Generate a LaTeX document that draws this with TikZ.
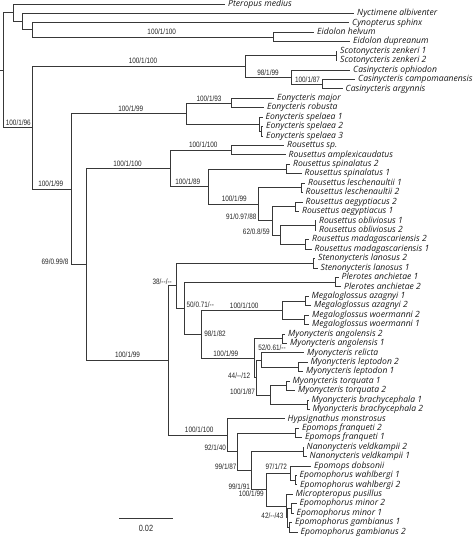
\documentclass[tikz,border=0pt]{standalone}
\usepackage{fontspec}
\usepackage{tikz}
\usetikzlibrary{positioning,calc}
\setmainfont{Liberation Sans}
\newfontfamily\taxfont{Open Sans}
\newfontfamily\narrowfont[FakeStretch=0.82]{Liberation Sans}
\definecolor{branch}{HTML}{383838}

\begin{document}
\begin{tikzpicture}[
  x=1pt, y=-1pt,
  br/.style={draw=branch, line width=0.9pt},
  leaf/.style={inner sep=1pt, font=\taxfont\itshape\fontsize{8.6}{9}\selectfont,
               text height=6pt, text depth=1.6pt, text=black!90},
  bs/.style={inner sep=0pt, font=\narrowfont\fontsize{7.8}{9}\selectfont, text=black!85},
]
\useasboundingbox (0,0) rectangle (474,537);
% ---------- taxa (tip x, label) ----------
\foreach \n/\xe/\t [count=\i] in {
  l1/225/Pteropus medius,
  l2/354/Nyctimene albiventer,
  l3/349/Cynopterus sphinx,
  l4/314/Eidolon helvum,
  l5/350/Eidolon dupreanum,
  l6/337/Scotonycteris zenkeri 1,
  l7/337/Scotonycteris zenkeri 2,
  l8/350/Casinycteris ophiodon,
  l9/355/Casinycteris campomaanensis,
  l10/342.5/Casinycteris argynnis,
  l11/274/Eonycteris major,
  l12/264/Eonycteris robusta,
  l13/262.5/Eonycteris spelaea 1,
  l14/263/Eonycteris spelaea 2,
  l15/263/Eonycteris spelaea 3,
  l16/284/Rousettus sp.,
  l17/285.5/Rousettus amplexicaudatus,
  l18/290/Rousettus spinalatus 2,
  l19/301.5/Rousettus spinalatus 1,
  l20/305/Rousettus leschenaultii 1,
  l21/302.5/Rousettus leschenaultii 2,
  l22/302.5/Rousettus aegyptiacus 2,
  l23/299/Rousettus aegyptiacus 1,
  l24/316/Rousettus obliviosus 1,
  l25/316/Rousettus obliviosus 2,
  l26/309/Rousettus madagascariensis 2,
  l27/311.5/Rousettus madagascariensis 1,
  l28/315/Stenonycteris lanosus 2,
  l29/317.5/Stenonycteris lanosus 1,
  l30/338.5/Plerotes anchietae 1,
  l31/341/Plerotes anchietae 2,
  l32/308.5/Megaloglossus azagnyi 1,
  l33/311/Megaloglossus azagnyi 2,
  l34/309/Megaloglossus woermanni 2,
  l35/309/Megaloglossus woermanni 1,
  l36/285/Myonycteris angolensis 2,
  l37/287/Myonycteris angolensis 1,
  l38/304/Myonycteris relicta,
  l39/307.5/Myonycteris leptodon 2,
  l40/303/Myonycteris leptodon 1,
  l41/289.5/Myonycteris torquata 1,
  l42/295/Myonycteris torquata 2,
  l43/308.5/Myonycteris brachycephala 1,
  l44/309.5/Myonycteris brachycephala 2,
  l45/284.5/Hypsignathus monstrosus,
  l46/299/Epomops franqueti 2,
  l47/302/Epomops franqueti 1,
  l48/303.5/Nanonycteris veldkampii 2,
  l49/306.5/Nanonycteris veldkampii 1,
  l50/311/Epomops dobsonii,
  l51/296.5/Epomophorus wahlbergi 1,
  l52/297/Epomophorus wahlbergi 2,
  l53/292.5/Micropteropus pusillus,
  l54/296.5/Epomophorus minor 2,
  l55/293.5/Epomophorus minor 1,
  l56/292/Epomophorus gambianus 1,
  l57/297.5/Epomophorus gambianus 2}{
  \coordinate (\n) at (\xe, {4+(\i-1)*9.43});
  \node[leaf, right=2pt of \n] (t\n) {\t};
}
% ---------- internal nodes ----------
\coordinate (base) at (0,70.31);
\coordinate (root) at (3.7,70.31);
\coordinate (A) at (13.3,12.84);     \coordinate (B) at (22.3,21.68);
\coordinate (C) at (32.3,29.93);     \coordinate (Eid) at (273.3,37.0);
\coordinate (N96) at (32,127.78);    \coordinate (S1) at (245.7,66.48);
\coordinate (Zk) at (336,55.87);     \coordinate (Cas1) at (291.7,77.08);
\coordinate (Cas2) at (322.7,84.16);
\coordinate (Nmid) at (71.7,189.07); \coordinate (E) at (186,113.63);
\coordinate (E1) at (231.7,103.02);  \coordinate (E2) at (259,124.23);
\coordinate (E3) at (261,131.31);
\coordinate (N69) at (86,264.51);    \coordinate (R) at (170,168.4);
\coordinate (R1) at (231.7,150.17);  \coordinate (R2) at (208.3,186.7);
\coordinate (Rsp) at (286,169.03);   \coordinate (R3) at (258.3,204.4);
\coordinate (Rle) at (301.7,187.89); \coordinate (R4) at (272.7,220.9);
\coordinate (Rae) at (295,206.75);   \coordinate (R5) at (280,235.04);
\coordinate (Rob) at (315,225.61);   \coordinate (Rma) at (305,244.47);
\coordinate (N100b) at (168.3,360.62);
\coordinate (N38) at (176,285.8);    \coordinate (St) at (313.3,263.33);
\coordinate (N50) at (184.3,308.28); \coordinate (Pl) at (335,282.19);
\coordinate (N98) at (201.7,334.36); \coordinate (MG) at (282.7,310.5);
\coordinate (Maz) at (305.7,301.05); \coordinate (Mwo) at (304.3,319.9);
\coordinate (MY) at (254.7,358.22);  \coordinate (Man) at (282,338.77);
\coordinate (N44) at (256.7,377.67); \coordinate (N52) at (261.7,359.98);
\coordinate (Mle) at (298.3,367.06); \coordinate (N100c) at (270,395.35);
\coordinate (Mto) at (286,385.92);   \coordinate (Mbr) at (307.3,404.78);
\coordinate (N100d) at (227.7,435.43); \coordinate (N92) at (237.3,451.93);
\coordinate (Efr) at (295,433.07);   \coordinate (N99c) at (251,470.79);
\coordinate (Nve) at (303.3,451.93); \coordinate (N99d) at (266,489.65);
\coordinate (N97) at (290.7,473.15); \coordinate (Ewa) at (295,480.22);
\coordinate (N100e) at (286,506.15); \coordinate (N42) at (287.7,517.94);
\coordinate (Emi) at (291.7,508.5);  \coordinate (Ega) at (289.3,527.37);
% ---------- branches ----------
\draw[br] (base) -- (root);
\foreach \p/\c in {root/A, root/N96, A/l1, A/B, B/l2, B/C, C/l3, C/Eid, Eid/l4, Eid/l5,
  N96/S1, N96/Nmid, S1/Zk, S1/Cas1, Zk/l6, Zk/l7, Cas1/l8, Cas1/Cas2, Cas2/l9, Cas2/l10,
  Nmid/E, Nmid/N69, E/E1, E/E2, E1/l11, E1/l12, E2/l13, E2/E3, E3/l14, E3/l15,
  N69/R, N69/N100b, R/R1, R/R2, R1/l16, R1/l17, R2/Rsp, R2/R3, Rsp/l18, Rsp/l19,
  R3/Rle, R3/R4, Rle/l20, Rle/l21, R4/Rae, R4/R5, Rae/l22, Rae/l23,
  R5/Rob, R5/Rma, Rob/l24, Rob/l25, Rma/l26, Rma/l27,
  N100b/N38, N100b/N100d, N38/St, N38/N50, St/l28, St/l29, N50/Pl, N50/N98, Pl/l30, Pl/l31,
  N98/MG, N98/MY, MG/Maz, MG/Mwo, Maz/l32, Maz/l33, Mwo/l34, Mwo/l35,
  MY/Man, MY/N44, Man/l36, Man/l37, N44/N52, N44/N100c, N52/l38, N52/Mle, Mle/l39, Mle/l40,
  N100c/Mto, N100c/Mbr, Mto/l41, Mto/l42, Mbr/l43, Mbr/l44,
  N100d/l45, N100d/N92, N92/Efr, N92/N99c, Efr/l46, Efr/l47, N99c/Nve, N99c/N99d, Nve/l48, Nve/l49,
  N99d/N97, N99d/N100e, N97/l50, N97/Ewa, Ewa/l51, Ewa/l52,
  N100e/l53, N100e/N42, N42/Emi, N42/Ega, Emi/l54, Emi/l55, Ega/l56, Ega/l57}
  \draw[br] (\p) |- (\c);
% ---------- support values ----------
\node[bs] (sEid) at (161.7,32) {100/1/100};   \node[bs] (sS1) at (143,61) {100/1/100};
\node[bs] (sCas1) at (268,72.3) {98/1/99};    \node[bs] (sCas2) at (307.5,79.3) {100/1/87};
\node[bs] (sN96) at (18.3,122.7) {100/1/96};  \node[bs] (sE) at (130.8,108.3) {100/1/99};
\node[bs] (sE1) at (209,98.3) {100/1/93};     \node[bs] (sNmid) at (50.8,183.3) {100/1/99};
\node[bs] (sN69) at (55,261.7) {69/0.99/8};   \node[bs] (sR) at (127.5,163.3) {100/1/100};
\node[bs] (sR1) at (203.3,145) {100/1/100};   \node[bs] (sR2) at (187.8,181.7) {100/1/89};
\node[bs] (sR3) at (234.2,199) {100/1/99};    \node[bs] (sR4) at (241.3,217) {91/0.97/88};
\node[bs] (sR5) at (256.3,232.2) {62/0.8/59};
\node[bs] (sN38) at (162.2,281.7) {38/-{}-/-{}-};
\node[bs] (sN50) at (200.3,305) {50/0.71/--};  \node[bs] (sMG) at (244.2,305.7) {100/1/100};
\node[bs] (sN98) at (215,333.8) {98/1/82};     \node[bs] (sMY) at (225.8,353.3) {100/1/99};
\node[bs] (sN52) at (272,347.8) {52/0.61/-{}-};
\node[bs] (sN44) at (239.2,375.3) {44/-{}-/12}; \node[bs] (sN100c) at (242.5,391.7) {100/1/87};
\node[bs] (sN100b) at (127.5,354.3) {100/1/99}; \node[bs] (sN100d) at (199.2,429.7) {100/1/100};
\node[bs] (sN92) at (215.2,448) {92/1/40};     \node[bs] (sN99c) at (225.8,467) {99/1/87};
\node[bs] (sN99d) at (239.2,487) {99/1/91};    \node[bs] (sN97) at (276.3,467.2) {97/1/72};
\node[bs] (sN100e) at (251.2,494) {100/1/99};  \node[bs] (sN42) at (272.5,515.5) {42/-{}-/43};
% ---------- scale bar ----------
\coordinate (sb1) at (119.3,518);
\coordinate (sb2) at (173.3,518);
\draw[br] (sb1) -- (sb2);
\node[bs, font=\narrowfont\fontsize{9}{10}\selectfont] (sbl) at (146,528) {0.02};
\end{tikzpicture}
\end{document}
